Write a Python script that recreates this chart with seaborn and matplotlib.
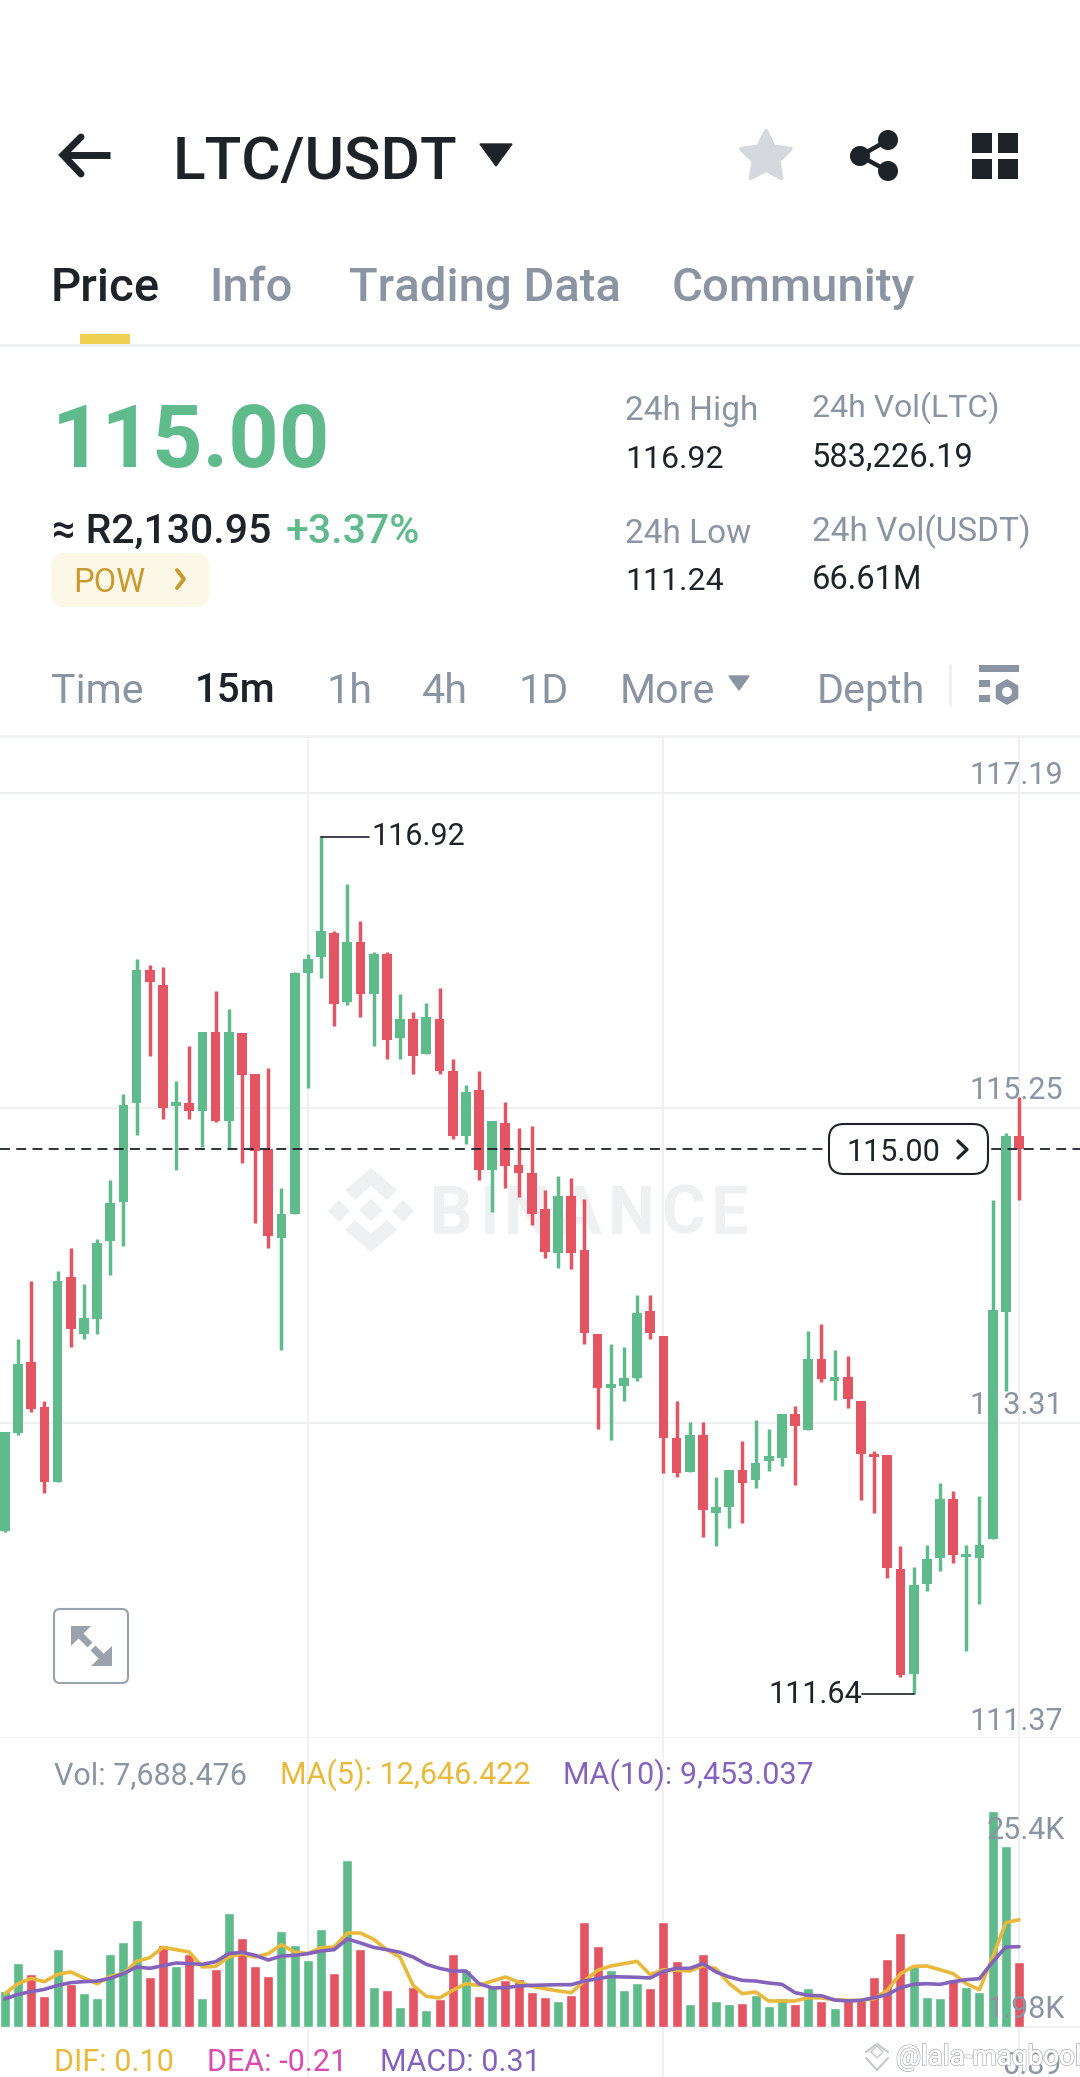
import numpy as np
import pandas as pd
import matplotlib
matplotlib.use("Agg")
import matplotlib.pyplot as plt
from matplotlib.patches import FancyBboxPatch, Polygon, Circle, Rectangle, RegularPolygon
import matplotlib.patheffects as pe
import seaborn as sns

# ---------------- data ----------------
highs = [113.255,113.826,114.187,113.444,114.247,114.386,114.164,114.445,114.805,115.338,
         116.169,116.129,116.120,115.418,115.630,115.719,115.969,115.858,115.710,115.458,
         115.498,114.756,116.087,116.197,116.923,116.339,116.629,116.400,116.211,116.211,
         115.950,115.839,115.898,115.990,115.549,115.389,115.478,115.168,115.288,115.127,
         115.137,114.746,114.828,114.816,114.687,113.855,113.796,113.777,114.096,114.096,
         113.846,113.443,113.316,113.316,112.978,113.023,113.202,113.331,113.273,113.366,
         113.413,113.875,113.922,113.762,113.724,113.443,113.136,113.114,112.553,112.421,
         112.561,112.943,112.891,112.561,112.863,114.686,115.093,115.318]
lows = [112.636,113.237,113.376,112.876,112.945,113.778,113.827,113.858,114.219,114.400,
        115.081,115.571,115.180,114.871,115.180,115.010,115.161,115.001,114.911,114.539,
        114.390,113.759,114.600,115.371,116.051,115.752,115.882,115.811,115.632,115.552,
        115.552,115.462,115.582,115.462,115.059,115.028,114.809,114.609,114.760,114.699,
        114.529,114.329,114.267,114.258,113.799,113.276,113.207,113.448,113.568,113.827,
        113.000,112.976,113.007,112.607,112.553,112.666,112.696,112.907,113.017,113.048,
        112.927,113.268,113.564,113.449,113.400,112.836,112.756,112.355,111.745,111.640,
        112.275,112.396,112.446,111.904,112.195,112.597,113.504,114.681]
body_top = [113.255,113.676,113.686,113.407,114.187,114.207,113.955,114.416,114.666,115.267,
            116.098,116.098,116.009,115.288,115.279,115.719,115.719,115.719,115.710,115.458,
            114.998,114.595,116.080,116.167,116.339,116.329,116.271,116.271,116.199,116.199,
            115.799,115.799,115.808,115.799,115.478,115.347,115.358,115.168,115.158,114.899,
            114.847,114.628,114.706,114.706,114.376,113.855,113.547,113.587,113.985,113.997,
            113.846,113.217,113.236,113.236,112.793,113.023,113.023,113.061,113.105,113.366,
            113.366,113.705,113.705,113.595,113.595,113.443,113.122,113.114,112.413,112.314,
            112.470,112.841,112.841,112.506,112.561,114.004,115.076,115.076]
body_bot = [112.646,113.247,113.397,112.945,112.945,113.889,113.858,113.950,114.430,114.669,
            115.281,116.023,115.250,115.260,115.229,115.232,115.168,115.170,115.451,114.982,
            114.461,114.449,114.600,116.082,116.181,115.891,115.901,115.952,115.952,115.669,
            115.679,115.570,115.582,115.478,115.076,115.078,114.868,114.868,114.890,114.847,
            114.597,114.366,114.357,114.357,113.867,113.525,113.528,113.537,113.587,113.867,
            113.217,113.000,113.007,112.776,112.756,112.795,112.938,112.957,113.078,113.097,
            113.290,113.268,113.578,113.567,113.457,113.116,113.100,112.415,111.761,111.764,
            112.316,112.476,112.495,112.487,112.476,112.597,113.991,114.999]
direction = ['G','G','R','R','G','R','G','G','G','G','G','R','R','G','R','G','R','G','R','R',
             'R','G','G','G','G','R','G','R','G','R','G','R','G','R','R','G','R','G','R','R',
             'R','R','G','R','R','R','G','G','G','R','R','R','G','R','G','G','R','G','G','G',
             'R','G','R','G','R','R','R','R','R','G','G','G','R','G','G','G','G','R']
volume_k = [4.25,7.59,6.29,3.66,9.16,5.11,4.01,3.38,8.57,10.06,12.58,5.90,9.67,7.15,8.65,3.38,
            6.80,13.48,10.46,7.15,6.05,11.36,9.71,7.90,11.52,6.37,19.73,9.20,4.76,4.40,2.36,
            4.68,1.97,3.34,8.65,6.68,3.69,4.72,5.50,5.66,4.13,3.54,3.07,3.77,12.42,9.55,6.72,
            4.40,5.23,4.64,12.38,7.82,2.71,8.61,3.11,2.67,2.83,3.73,2.52,3.42,2.71,4.60,3.03,
            2.20,3.14,3.14,5.94,8.02,11.12,7.35,3.50,3.46,5.70,4.68,4.13,25.43,21.38,7.67]
ma5_k = [3.93,5.11,5.74,5.35,6.21,6.49,5.78,5.11,5.97,6.29,7.74,8.18,9.39,9.12,8.84,7.08,7.15,
         8.25,8.65,8.25,8.65,9.71,8.84,8.65,9.36,9.43,11.08,11.08,10.34,9.12,8.25,4.91,3.62,
         3.42,4.32,5.11,4.91,5.42,5.90,5.31,4.80,4.52,4.25,4.05,5.42,6.68,7.19,7.47,7.74,6.17,
         6.76,6.68,6.60,7.23,6.88,5.11,3.93,4.13,3.07,3.07,3.07,3.46,3.42,3.22,3.14,3.14,3.34,
         4.32,6.29,7.15,7.19,6.76,6.29,5.11,4.40,8.25,12.30,12.65]
ma10_k = [3.30,3.85,4.17,4.44,4.91,5.23,5.35,5.42,5.74,6.29,7.08,6.92,7.23,7.55,7.47,7.39,7.70,
          8.65,8.81,8.45,7.90,8.37,8.45,8.65,8.96,9.12,10.38,9.91,9.39,9.12,8.81,8.25,7.39,6.92,
          6.60,6.60,5.11,4.60,4.64,4.83,4.91,4.95,4.99,4.99,5.42,5.70,5.94,5.90,5.86,5.78,6.56,
          6.92,6.92,7.47,6.49,5.90,5.50,5.42,5.19,5.03,4.05,3.73,3.69,3.18,3.07,3.14,3.46,3.81,
          4.64,5.03,5.11,5.03,5.35,5.58,5.70,7.67,9.43,9.47]
price_ticks = [117.19, 115.25, 113.31, 111.37]
price_tick_labels = ["117.19", "115.25", "113.31", "111.37"]
grid_candles = [23, 50, 77]
last_price = 115.00
high_idx, high_val = 24, 116.92
low_idx, low_val = 69, 111.64

# ---------------- style ----------------
W, H = 1080, 2077
sns.set_theme(style="white")
plt.rcParams['font.family'] = ['Roboto', 'DejaVu Sans']
GREEN, RED = "#5FBB8B", "#E35562"
DARK, GRAY = "#1E2329", "#8A94A3"
GRID = "#EEF0F2"
YEL, PUR, PINK = "#E8B93B", "#8463BC", "#DB4BAF"

fig = plt.figure(figsize=(W/100, H/100), dpi=100, facecolor="white")

def overlay(z):
    a = fig.add_axes([0, 0, 1, 1], zorder=z)
    a.set_xlim(0, W); a.set_ylim(H, 0); a.axis("off")
    a.patch.set_alpha(0)
    return a

back = overlay(0)
front = overlay(3)

def T(a, x, yc, s, size, color=DARK, weight="normal", ha="left", **kw):
    """text with cap-height centre at yc (pixels); size in pt"""
    base = yc + 0.711 * size / 0.72 / 2
    return a.text(x, base, s, fontsize=size, color=color, fontweight=weight, ha=ha, va="baseline", **kw)

def px_axes(top, bottom, z):
    a = fig.add_axes([0, 1 - bottom / H, 1, (bottom - top) / H], zorder=z)
    a.patch.set_alpha(0)
    for s in a.spines.values():
        s.set_visible(False)
    a.set_xlim((0 - 4.9) / 13.17, (W - 4.9) / 13.17)
    return a

# ---------------- price panel ----------------
PT, PB = 738, 1738
ax = px_axes(PT, PB, 1)
ax.set_ylim(115.25 - (PB - 1108) / 162.4, 115.25 + (1108 - PT) / 162.4)
ax.set_yticks(price_ticks); ax.set_xticks(grid_candles)
ax.tick_params(length=0, labelleft=False, labelbottom=False)
ax.grid(True, color=GRID, lw=1.5, zorder=0)
ax.set_axisbelow(True)
idx = np.arange(len(highs))
dirs = np.array(direction)
cols = np.where(dirs == "G", GREEN, RED)
tops, bots = np.array(body_top), np.array(body_bot)
ax.vlines(idx, lows, highs, colors=cols, lw=2.5, zorder=3)
ax.bar(idx, np.maximum(tops - bots, 0.012), bottom=bots, width=0.74, color=cols, zorder=3, lw=0)
ax.axhline(last_price, color=DARK, lw=1.3, dashes=(5.5, 3.5), zorder=4)

for v, lab in zip(price_ticks, price_tick_labels):
    ax.annotate(lab, xy=(1, v), xycoords=("axes fraction", "data"),
                xytext=(-17 * .72, 17 * .72), textcoords="offset points",
                ha="right", va="center", fontsize=22, color=GRAY, zorder=1)

# high / low markers
ax.plot([high_idx, high_idx + 3.65], [high_val, high_val], color=DARK, lw=1.2, zorder=4)
ax.annotate("116.92", xy=(high_idx + 3.65, high_val), xytext=(2, 0), textcoords="offset points",
            ha="left", va="center", fontsize=22, color=DARK)
ax.plot([low_idx, low_idx - 3.9], [low_val, low_val], color=DARK, lw=1.2, zorder=4)
ax.annotate("111.64", xy=(low_idx - 3.9, low_val), xytext=(0, 0), textcoords="offset points",
            ha="right", va="center", fontsize=22, color=DARK)

# ---------------- volume panel ----------------
VB = 2027
vx = px_axes(PB, VB, 1)
df = pd.DataFrame({"i": idx, "vol": volume_k, "dir": direction, "ma5": ma5_k, "ma10": ma10_k})
sns.barplot(data=df, x="i", y="vol", hue="dir", palette={"G": GREEN, "R": RED}, native_scale=True,
            dodge=False, width=0.76, saturation=1, legend=False, ax=vx, zorder=2)
sns.lineplot(data=df, x="i", y="ma5", color=YEL, lw=2.6, ax=vx, zorder=3)
sns.lineplot(data=df, x="i", y="ma10", color=PUR, lw=2.6, ax=vx, zorder=4)
vx.set_xlim((0 - 4.9) / 13.17, (W - 4.9) / 13.17)
vx.set_ylim(0, (VB - PB) / 8.48)
vx.set_xlabel(""); vx.set_ylabel("")
vx.set_yticks([]); vx.set_xticks(grid_candles)
vx.tick_params(length=0, labelbottom=False)
vx.grid(True, axis="x", color=GRID, lw=1.5)
vx.set_axisbelow(True)

# vertical grid continuing through the MACD strip
for i in grid_candles:
    back.plot([4.9 + 13.17 * i] * 2, [VB, H], color=GRID, lw=1.5)
back.plot([0, W], [VB, VB], color=GRID, lw=1.5)
back.plot([0, W], [736, 736], color=GRID, lw=2)
back.plot([0, W], [345, 345], color=GRID, lw=2)

# watermark
wm = "#EFF0F2"
for pts in ([(371,1168),(397,1190),(387,1200),(371,1186),(355,1200),(345,1190)],
            [(371,1252),(397,1230),(387,1220),(371,1234),(355,1220),(345,1230)],
            [(371,1199),(383,1210),(371,1221),(359,1210)],
            [(339,1200),(350,1211),(339,1222),(328,1211)],
            [(403,1200),(414,1211),(403,1222),(392,1211)]):
    back.add_patch(Polygon(pts, closed=True, fc=wm, ec="none"))
rend = fig.canvas.get_renderer()
xpos = 430.0
for ch in "BINANCE":
    t = T(back, xpos, 1210, ch, 48, color=wm, weight="bold")
    xpos += t.get_window_extent(rend).width + 6

# ---------------- header ----------------
T(front, 173, 158, "LTC/USDT", 43.5, weight="medium")
front.add_patch(Polygon([(480,144),(512,144),(496,166)], closed=True, fc=DARK, ec=DARK, lw=1))
front.plot([63,110],[155,155], color=DARK, lw=5, solid_capstyle="butt")
front.plot([81,63,81],[137,155,174], color=DARK, lw=5, solid_joinstyle="miter")
ang = np.deg2rad(np.arange(10) * 36 - 90)
rad = np.where(np.arange(10) % 2 == 0, 26, 13)
front.add_patch(Polygon(np.c_[766 + rad*np.cos(ang), 157 + rad*np.sin(ang)], closed=True,
                        fc="#D5D8DC", ec="#D5D8DC", lw=3, joinstyle="round"))
for c in [(888,140),(860,156),(888,171)]:
    front.add_patch(Circle(c, 10, fc=DARK, ec="none"))
front.plot([888,860,888],[140,156,171], color=DARK, lw=3.2)
for x in (972, 998):
    for y in (133, 159):
        front.add_patch(Rectangle((x, y), 20, 20, fc=DARK, ec="none"))

# tabs
T(front, 51, 284, "Price", 34, weight="medium")
for x, s in [(209,"Info"),(349,"Trading Data"),(672,"Community")]:
    T(front, x, 284, s, 34, color=GRAY, weight="medium")
front.add_patch(Rectangle((80, 334), 50, 10, fc="#F0D050", ec="none"))

# price block
T(front, 52, 436, "115.00", 63.5, color=GREEN, weight="bold")
T(front, 52, 528, "≈ R2,130.95", 29.5, weight="medium")
T(front, 286, 528, "+3.37%", 29.5, color=GREEN, weight="medium")
front.add_patch(FancyBboxPatch((51, 553), 158, 54, boxstyle="round,pad=0,rounding_size=13", fc="#FCF8E8", ec="none"))
T(front, 73, 580, "POW", 23.5, color="#C99A2E")
front.plot([177,184,177],[570,579,588], color="#C99A2E", lw=2.8)
T(front, 625, 408, "24h High", 24, color=GRAY)
T(front, 625, 457, "116.92", 23)
T(front, 812, 405, "24h Vol(LTC)", 23, color=GRAY)
T(front, 812, 455, "583,226.19", 23.5)
T(front, 625, 531, "24h Low", 24, color=GRAY)
T(front, 625, 579, "111.24", 23)
T(front, 812, 529, "24h Vol(USDT)", 24, color=GRAY)
T(front, 812, 577, "66.61M", 23.5)

# timeframe row
for x, s in [(51,"Time"),(327,"1h"),(422,"4h"),(519,"1D"),(620,"More"),(817,"Depth")]:
    T(front, x, 688, s, 29.7, color=GRAY)
T(front, 195, 688, "15m", 29, weight="medium")
front.add_patch(Polygon([(729,676),(749,676),(739,690)], closed=True, fc=GRAY, ec=GRAY, lw=1))
front.plot([950,950],[665,705], color=GRID, lw=2)
front.add_patch(Rectangle((979,665),40,7, fc=GRAY, ec="none"))
front.add_patch(Rectangle((979,680),11,7, fc=GRAY, ec="none"))
front.add_patch(Rectangle((979,695),11,7, fc=GRAY, ec="none"))
front.add_patch(RegularPolygon((1007,692), 6, radius=13, fc=GRAY, ec="none"))
front.add_patch(Circle((1007,692), 5, fc="white", ec="none"))

# price pill
front.add_patch(FancyBboxPatch((829, 1124), 159, 50, boxstyle="round,pad=0,rounding_size=15", fc="white", ec=DARK, lw=1.5, zorder=5))
T(front, 846, 1150, "115.00", 22, zorder=6)
front.plot([958,967,958],[1141,1149.5,1158], color=DARK, lw=2.4, zorder=6)

# expand icon
front.add_patch(FancyBboxPatch((54,1609), 74, 74, boxstyle="round,pad=0,rounding_size=6", fc="white", ec="#9AA2AD", lw=1.5))
front.add_patch(Polygon([(71,1626),(91,1626),(71,1646)], closed=True, fc="#9AA2AD", ec="none"))
front.add_patch(Polygon([(112,1666),(91,1666),(112,1646)], closed=True, fc="#9AA2AD", ec="none"))
front.plot([80,90],[1635,1645], color="#9AA2AD", lw=5, solid_capstyle="butt")
front.plot([93,103],[1648,1658], color="#9AA2AD", lw=5, solid_capstyle="butt")

# indicator texts
T(front, 54, 1773, "Vol: 7,688.476", 22, color=GRAY)
T(front, 280, 1773, "MA(5): 12,646.422", 22, color=YEL)
T(front, 563, 1773, "MA(10): 9,453.037", 22, color=PUR)
T(front, 54, 2060, "DIF: 0.10", 22, color=YEL)
T(front, 207, 2060, "DEA: -0.21", 22, color=PINK)
T(front, 380, 2060, "MACD: 0.31", 22, color=PUR)
T(front, 1065, 1828, "25.4K", 22, color=GRAY, ha="right")
T(front, 1065, 2007, "1.98K", 22, color=GRAY, ha="right")
T(front, 1062, 2063, "0.89", 22, color=GRAY, ha="right")

# user watermark
T(front, 896, 2055, "@lala-maqbool", 20, color="white",
  path_effects=[pe.withStroke(linewidth=1.4, foreground="#B8BCC2"), pe.Normal()])
front.plot([866,877,888],[2058,2070,2058], color="#C4C8CC", lw=1.5)
front.plot([866,877,888],[2052,2044,2052], color="#C4C8CC", lw=1.5)
front.plot([871,877,883,877,871],[2052,2058,2052,2046,2052], color="#C4C8CC", lw=1)

fig.savefig("out.png", dpi=100, facecolor="white")
